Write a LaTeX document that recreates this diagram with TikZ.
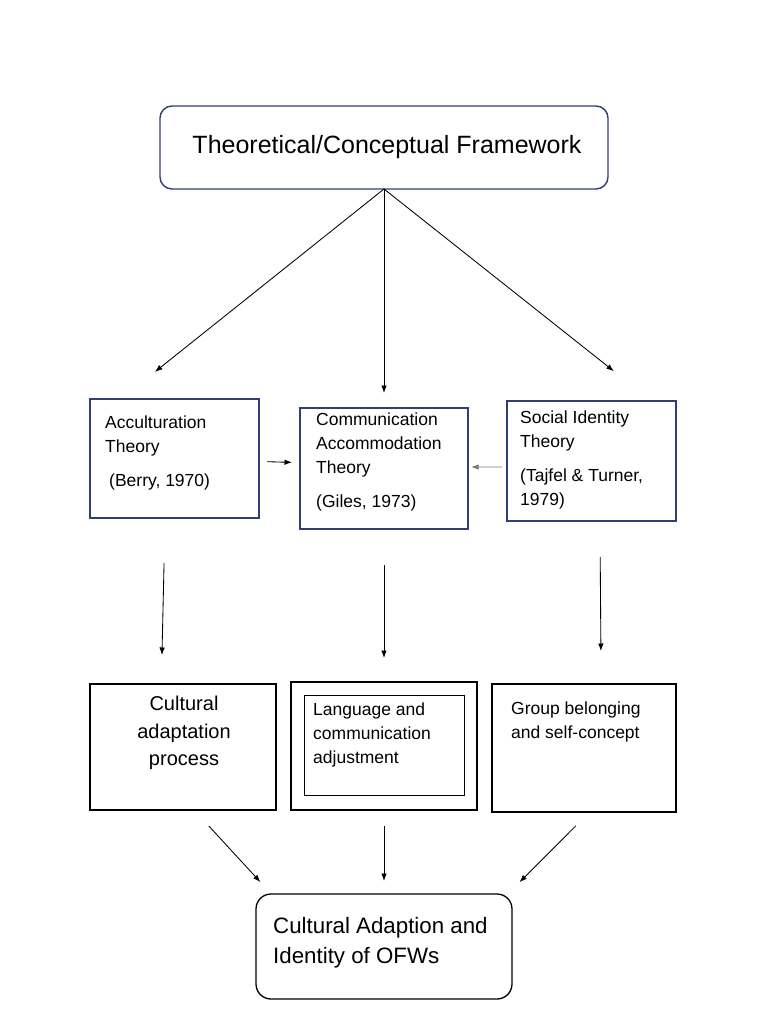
\documentclass[tikz,border=0pt]{standalone}
\usepackage{fontspec}
\setmainfont{Liberation Sans}
\usepackage{xcolor}
\usepackage{tikz}
\usetikzlibrary{arrows.meta}
\definecolor{navyx}{HTML}{2E3F73}
\definecolor{greyx}{HTML}{7A7A7A}
\tikzset{
  ar/.style={-{Latex[length=7.5pt,width=5.5pt]},line width=0.85pt,black},
  nbox/.style={draw=navyx,line width=1.2pt,inner sep=0pt,outer sep=0pt,anchor=north west},
  kbox/.style={draw=black,line width=1.2pt,inner sep=0pt,outer sep=0pt,anchor=north west},
  txt/.style={inner sep=0pt,anchor=north west,align=left,font=\fontsize{17.5}{24}\selectfont}
}
\begin{document}
\begin{tikzpicture}[x=1pt,y=-1pt]
\useasboundingbox (0,0) rectangle (768,1024);
% framework
\node[nbox,rounded corners=12pt,line width=1.4pt,minimum width=448pt,minimum height=83pt,
  font=\fontsize{25}{30}\selectfont] (frame) at (160,106) {\hspace*{6pt}Theoretical/Conceptual Framework};
% theories
\node[nbox,minimum width=169pt,minimum height=119pt] (acc) at (90,399) {};
\node[txt] (accT) at (105,416) {Acculturation\\Theory\\[10pt]\hspace*{4pt}(Berry, 1970)};
\node[nbox,minimum width=168pt,minimum height=121pt] (comm) at (300,408) {};
\node[txt] (commT) at (316,413) {Communication\\Accommodation\\Theory\\[10pt](Giles, 1973)};
\node[nbox,minimum width=169pt,minimum height=120pt] (soc) at (507,401) {};
\node[txt] (socT) at (520,411) {Social Identity\\Theory\\[10pt](Tajfel \& Turner,\\1979)};
% outcomes
\node[kbox,line width=2pt,minimum width=186pt,minimum height=126pt] (cult) at (90,684) {};
\node[txt,anchor=north,align=center,font=\fontsize{20}{27.5}\selectfont] (cultT) at (184,696) {Cultural\\adaptation\\process};
\node[kbox,line width=1.6pt,minimum width=186pt,minimum height=128pt] (lang) at (291,682) {};
\node[kbox,line width=1pt,minimum width=160pt,minimum height=100pt] (langIn) at (304,695) {};
\node[txt] (langT) at (313,703) {Language and\\communication\\adjustment};
\node[kbox,minimum width=184pt,minimum height=128pt] (grp) at (492,684) {};
\node[txt,font=\fontsize{17.5}{23.5}\selectfont] (grpT) at (511,702) {Group belonging\\and self-concept};
% result
\node[kbox,rounded corners=15pt,line width=1.3pt,minimum width=256pt,minimum height=105pt] (ofw) at (256,894) {};
\node[txt,font=\fontsize{22.3}{30}\selectfont] (ofwT) at (273,917) {Cultural Adaption and\\Identity of OFWs};
% arrows
\draw[ar,shorten >=43.5pt] (frame.south) -- (acc.132);
\draw[ar,shorten >=15pt] (frame.south) -- (comm.north);
\draw[ar,shorten >=48pt] (frame.south) -- (soc.45);
\draw[ar,shorten <=8pt,shorten >=8pt] (acc.-2) -- (comm.176);
\draw[ar,greyx,shorten <=5pt,shorten >=3pt] (soc.184) -- (comm.1);
\draw[ar,shorten <=45pt,shorten >=29pt] (acc.-99) -- (cult.109);
\draw[ar,shorten <=36pt,shorten >=24pt] (comm.south) -- (lang.north);
\draw[ar,shorten <=36pt,shorten >=33pt] (soc.-82) -- (grp.75);
\draw[ar,shorten <=21.7pt,shorten >=16.2pt] (cult.-80) -- (ofw.155);
\draw[ar,shorten <=16pt,shorten >=13pt] (lang.south) -- (ofw.north);
\draw[ar,shorten <=19.4pt,shorten >=16.7pt] (grp.-85) -- (ofw.23);
\end{tikzpicture}
\end{document}
